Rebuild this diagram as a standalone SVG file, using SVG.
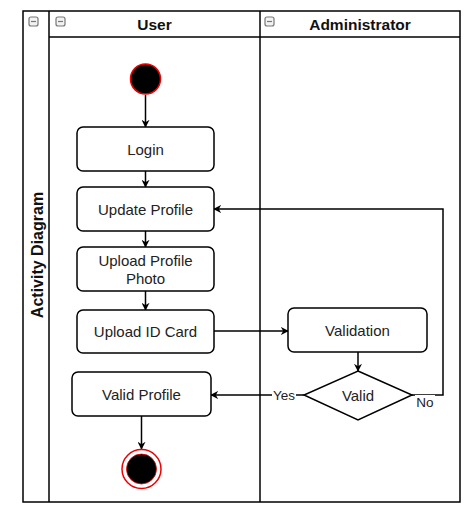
<svg xmlns="http://www.w3.org/2000/svg" width="474" height="516" viewBox="0 0 474 516">
<defs>
<marker id="arr" viewBox="0 0 10 10" refX="9" refY="5" markerWidth="8" markerHeight="8" markerUnits="userSpaceOnUse" orient="auto">
<path d="M0,0 L10,5 L0,10 L3,5 Z" fill="#000"/>
</marker>
<style>
.lane{fill:none;stroke:#000;stroke-width:1.5}
.box{fill:#fff;stroke:#000;stroke-width:1.5}
.t{font-family:"Liberation Sans",Arial,sans-serif;font-size:15px;fill:#222;text-anchor:middle}
.h{font-family:"Liberation Sans",Arial,sans-serif;font-size:15.5px;font-weight:bold;fill:#111;text-anchor:middle}
.lbl{font-family:"Liberation Sans",Arial,sans-serif;font-size:13.5px;fill:#222;text-anchor:middle}
.icon{fill:#f2f2f2;stroke:#777;stroke-width:1.2}
.conn{fill:none;stroke:#000;stroke-width:1.5}
</style>
</defs>
<rect width="474" height="516" fill="#fff"/>
<g id="pool">
<rect class="lane" x="23" y="11" width="437" height="491"/>
<line class="lane" x1="49" y1="11" x2="49" y2="502"/>
<rect x="29" y="17" width="9" height="9" rx="2" class="icon"/>
<line x1="31" y1="21.5" x2="36" y2="21.5" stroke="#777" stroke-width="1.2"/>
<text class="h" style="font-size:16px" transform="translate(43,255) rotate(-90)">Activity Diagram</text>
</g>
<g id="lane-user">
<line class="lane" x1="49" y1="37" x2="260" y2="37"/>
<rect x="56" y="17" width="9" height="9" rx="2" class="icon"/>
<line x1="58" y1="21.5" x2="63" y2="21.5" stroke="#777" stroke-width="1.2"/>
<text class="h" x="154.5" y="29.5">User</text>
</g>
<g id="lane-admin">
<line class="lane" x1="260" y1="11" x2="260" y2="502"/>
<line class="lane" x1="260" y1="37" x2="460" y2="37"/>
<rect x="265" y="17" width="9" height="9" rx="2" class="icon"/>
<line x1="267" y1="21.5" x2="272" y2="21.5" stroke="#777" stroke-width="1.2"/>
<text class="h" x="360" y="29.5">Administrator</text>
</g>
<g id="connectors">
<line class="conn" x1="145.5" y1="95" x2="145.5" y2="127" marker-end="url(#arr)"/>
<line class="conn" x1="145.5" y1="171" x2="145.5" y2="187" marker-end="url(#arr)"/>
<line class="conn" x1="145.5" y1="231" x2="145.5" y2="247" marker-end="url(#arr)"/>
<line class="conn" x1="145.5" y1="291" x2="145.5" y2="310" marker-end="url(#arr)"/>
<line class="conn" x1="214" y1="331" x2="288" y2="331" marker-end="url(#arr)"/>
<line class="conn" x1="358" y1="352" x2="358" y2="371" marker-end="url(#arr)"/>
<line class="conn" x1="304" y1="395" x2="211" y2="395" marker-end="url(#arr)"/>
<polyline class="conn" points="412,395 443,395 443,209 214,209" marker-end="url(#arr)"/>
<line class="conn" x1="141.5" y1="416" x2="141.5" y2="449" marker-end="url(#arr)"/>
<rect x="272" y="388" width="24" height="15" fill="#fff"/>
<text class="lbl" x="284" y="400">Yes</text>
<rect x="415" y="395" width="20" height="15" fill="#fff"/>
<text class="lbl" x="425" y="407">No</text>
</g>
<g id="start">
<circle cx="145.5" cy="79" r="15" fill="#000" stroke="#e00" stroke-width="1.5"/>
</g>
<g id="login">
<rect class="box" x="77" y="127" width="137" height="44" rx="6"/>
<text class="t" x="145.5" y="154.5">Login</text>
</g>
<g id="update-profile">
<rect class="box" x="77" y="187" width="137" height="44" rx="6"/>
<text class="t" x="145.5" y="214.5">Update Profile</text>
</g>
<g id="upload-photo">
<rect class="box" x="77" y="247" width="137" height="44" rx="6"/>
<text class="t" x="145.5" y="266">Upload Profile</text>
<text class="t" x="145.5" y="284">Photo</text>
</g>
<g id="upload-id">
<rect class="box" x="77" y="310" width="137" height="43" rx="6"/>
<text class="t" x="145.5" y="337">Upload ID Card</text>
</g>
<g id="validation">
<rect class="box" x="288" y="308" width="139" height="44" rx="6"/>
<text class="t" x="357.5" y="335.5">Validation</text>
</g>
<g id="valid">
<polygon class="box" points="358,371 412,395 358,420 304,395"/>
<text class="t" x="358" y="400.5">Valid</text>
</g>
<g id="valid-profile">
<rect class="box" x="72" y="372" width="139" height="44" rx="6"/>
<text class="t" x="141.5" y="399.5">Valid Profile</text>
</g>
<g id="end">
<circle cx="141.5" cy="469" r="19.5" fill="#fff" stroke="#e00" stroke-width="1.5"/>
<circle cx="141.5" cy="469" r="15" fill="#000" stroke="#e00" stroke-width="0.8"/>
</g>
</svg>
